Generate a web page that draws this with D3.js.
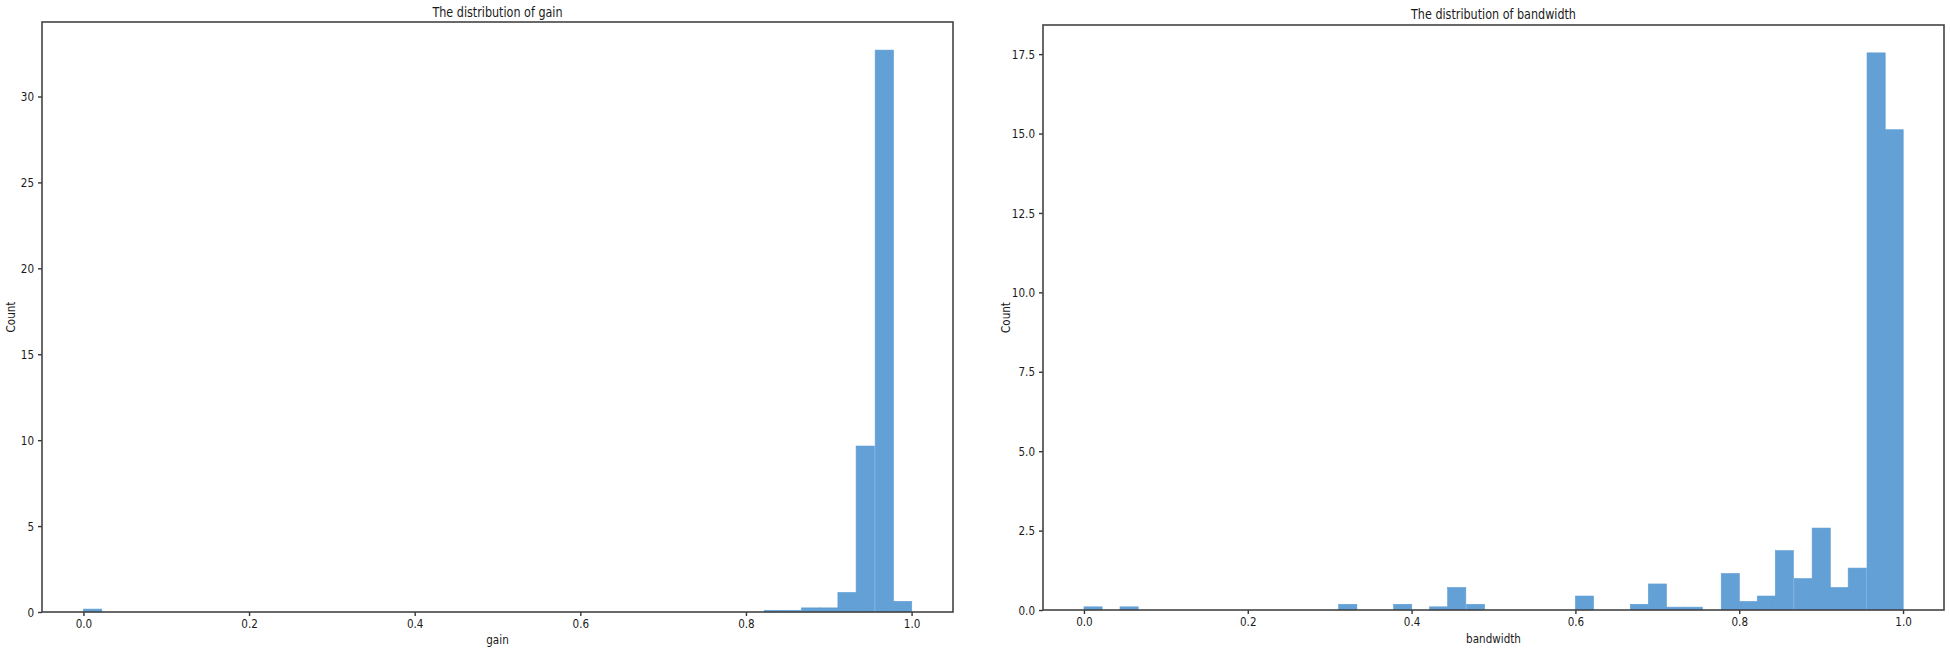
<!DOCTYPE html>
<html>
<head>
<meta charset="utf-8">
<script src="https://cdn.jsdelivr.net/npm/d3@7"></script>
<style>
  html, body { margin: 0; padding: 0; background: #fff; }
  svg { display: block; }
  text { font-family: "DejaVu Sans", sans-serif; fill: #1a1a1a; }
</style>
</head>
<body>
<svg id="chart" width="1950" height="652"></svg>
<script>
// ---- Data (density histograms, bin width = 1/45) ----
const binWidth = 0.02222;

const gainBinStart = [0.000, 0.822, 0.844, 0.867, 0.889, 0.911, 0.933, 0.956, 0.978];
const gainHeight   = [0.17,  0.10,  0.10,  0.24,  0.24,  1.14,  9.66,  32.7,  0.62];

const bwBinStart = [0.000, 0.044, 0.311, 0.378, 0.422, 0.444, 0.467, 0.600, 0.667, 0.689, 0.711, 0.733,
                    0.778, 0.800, 0.822, 0.844, 0.867, 0.889, 0.911, 0.933, 0.956, 0.978];
const bwHeight   = [0.10,  0.10,  0.18,  0.18,  0.10,  0.71,  0.18,  0.44,  0.18,  0.82,  0.09,  0.09,
                    1.15,  0.27,  0.44,  1.87,  0.99,  2.58,  0.71,  1.32,  17.54, 15.12];

const xTicks = [0.0, 0.2, 0.4, 0.6, 0.8, 1.0];
const gainYTicks = [0, 5, 10, 15, 20, 25, 30];
const bwYTicks = [0, 2.5, 5, 7.5, 10, 12.5, 15, 17.5];

const titles = ["The distribution of gain", "The distribution of bandwidth"];
const xLabels = ["gain", "bandwidth"];
const yLabel = "Count";

// ---- Layout ----
const SX = 0.8; // horizontal text compression seen in the reference
const panels = [
  { left: 42, right: 953, top: 22, bottom: 612, starts: gainBinStart, heights: gainHeight,
    yTicks: gainYTicks, yFmt: d3.format("d"), yMax: 32.7 * 1.05, title: titles[0], xlabel: xLabels[0],
    titleY: 17, xlabelY: 644, ylabelX: 15 },
  { left: 1043, right: 1944, top: 25, bottom: 610, starts: bwBinStart, heights: bwHeight,
    yTicks: bwYTicks, yFmt: d3.format(".1f"), yMax: 17.54 * 1.05, title: titles[1], xlabel: xLabels[1],
    titleY: 19.5, xlabelY: 643, ylabelX: 1010 }
];

const svg = d3.select("#chart");

function compressText(sel) {
  sel.each(function () {
    const t = d3.select(this);
    const x = +t.attr("x") || 0;
    t.attr("x", x / SX).attr("transform", `scale(${SX},1)`);
  });
}

panels.forEach(p => {
  const x = d3.scaleLinear().domain([-0.05, 1.05]).range([p.left, p.right]);
  const y = d3.scaleLinear().domain([0, p.yMax]).range([p.bottom, p.top]);

  const g = svg.append("g");

  // bars
  g.append("g").selectAll("rect")
    .data(p.starts.map((s, i) => ({ s, h: p.heights[i] })))
    .join("rect")
    .attr("x", d => x(d.s))
    .attr("width", d => x(d.s + binWidth) - x(d.s))
    .attr("y", d => y(d.h))
    .attr("height", d => y(0) - y(d.h))
    .attr("fill", "#62a0d5")
    .attr("stroke", "#62a0d5")
    .attr("stroke-width", 0.6);

  // axes
  const xAxis = g.append("g")
    .attr("transform", `translate(0,${p.bottom})`)
    .call(d3.axisBottom(x).tickValues(xTicks).tickFormat(d3.format(".1f")).tickSize(4).tickPadding(3));
  const yAxis = g.append("g")
    .attr("transform", `translate(${p.left},0)`)
    .call(d3.axisLeft(y).tickValues(p.yTicks).tickFormat(p.yFmt).tickSize(4).tickPadding(4));

  [xAxis, yAxis].forEach(a => {
    a.select(".domain").remove();
    a.selectAll(".tick line").attr("stroke", "#333").attr("stroke-width", 1.4);
    a.selectAll(".tick text").attr("font-size", 13).attr("font-family", "DejaVu Sans").attr("fill", "#1a1a1a");
  });
  xAxis.selectAll(".tick text").attr("transform", `scale(${SX},1)`);
  yAxis.selectAll(".tick text").call(compressText);

  // frame
  g.append("rect")
    .attr("x", p.left).attr("y", p.top)
    .attr("width", p.right - p.left).attr("height", p.bottom - p.top)
    .attr("fill", "none").attr("stroke", "#444").attr("stroke-width", 1.6);

  const cx = (p.left + p.right) / 2;

  // title
  g.append("text")
    .attr("x", cx / SX).attr("y", p.titleY)
    .attr("transform", `scale(${SX},1)`)
    .attr("text-anchor", "middle")
    .attr("font-size", 14)
    .text(p.title);

  // x label
  g.append("text")
    .attr("x", cx / SX).attr("y", p.xlabelY)
    .attr("transform", `scale(${SX},1)`)
    .attr("text-anchor", "middle")
    .attr("font-size", 13)
    .text(p.xlabel);

  // y label
  const cy = (p.top + p.bottom) / 2;
  g.append("text")
    .attr("transform", `translate(${p.ylabelX},${cy}) rotate(-90) scale(${SX},1)`)
    .attr("text-anchor", "middle")
    .attr("font-size", 13)
    .text(yLabel);
});
</script>
</body>
</html>
